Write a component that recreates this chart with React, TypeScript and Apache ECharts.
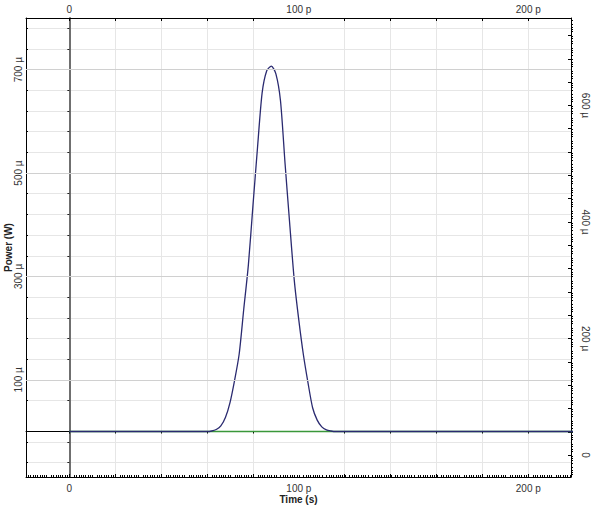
import { useEffect, useRef } from "react";
import * as echarts from "echarts";

// Axis ranges (time in ps, power in µW)
const X_MIN = -18.9;
const X_MAX = 218.6;
const Y_LEFT_MIN = -88;
const Y_LEFT_MAX = 800;
const Y_RIGHT_MIN = -37.5;
const Y_RIGHT_MAX = 750;

// Tick values (the reference shows no tick/grid at 100 p nor at 20 µ)
const X_TICKS = [0, 20, 40, 60, 80, 120, 140, 160, 180, 200];
const X_LABELS = [0, 100, 200];
const LEFT_TICKS = [-60, -20, 60, 100, 140, 180, 220, 260, 300, 340, 380, 420, 460, 500, 540, 580, 620, 660, 700, 740, 780];
const LEFT_LABELS = [100, 300, 500, 700];
const RIGHT_TICKS = [0, 40, 80, 120, 160, 200, 240, 280, 320, 360, 400, 440, 480, 520, 560, 600, 640, 680, 720];
const RIGHT_LABELS = [0, 200, 400, 600];

// Series: output pulse (blue) and reference (green)
const PULSE_TIME = [0, 60, 62, 64, 66, 68, 70, 72, 74, 76, 78, 80, 82, 84, 86, 88, 90, 92, 94, 96, 98, 100, 102, 104, 106, 108, 110, 112, 114, 116, 220];
const PULSE_POWER = [0, 0, 1, 4, 11, 27, 56, 99, 150, 237, 322, 437, 550, 655, 698, 707, 692, 640, 518, 403, 293, 215, 148, 94, 46, 22, 9, 3, 1, 0, 0];
const REF_TIME = [0, 220];
const REF_POWER = [0, 0];

const FONT = "'Liberation Sans', Arial, sans-serif";

export default function App() {
  const ref = useRef<HTMLDivElement>(null);

  useEffect(() => {
    const chart = echarts.init(ref.current!, null, { renderer: "svg" });
    const labelStyle = { color: "#333", fontSize: 10, fontFamily: FONT };
    const nameStyle = { color: "#222", fontSize: 10, fontWeight: "bold" as const, fontFamily: FONT };
    const fmtP = (v: number) => (v === 0 ? "0" : `${v} p`);
    const fmtU = (v: number) => (v === 0 ? "0" : `${v} µ`);

    chart.setOption({
      animation: false,
      backgroundColor: "#fff",
      grid: { left: 26, top: 18, right: 29, bottom: 28, outerBoundsMode: "none" },
      xAxis: [
        {
          type: "value", min: X_MIN, max: X_MAX, position: "bottom",
          axisLine: { show: true, onZero: false, lineStyle: { color: "#000", width: 1 } },
          axisTick: { show: true, inside: true, length: 3, customValues: X_TICKS, lineStyle: { color: "#000" } },
          axisLabel: { show: true, customValues: X_LABELS, formatter: fmtP, margin: 6, ...labelStyle },
          splitLine: { show: true, lineStyle: { color: "#e6e6e6", width: 1 } },
          name: "Time (s)", nameLocation: "middle", nameGap: 17, nameMoveOverlap: false, nameTextStyle: nameStyle,
        },
        {
          type: "value", min: X_MIN, max: X_MAX, position: "top",
          axisLine: { show: true, onZero: false, lineStyle: { color: "#000", width: 1 } },
          axisTick: { show: true, inside: true, length: 3, customValues: X_TICKS, lineStyle: { color: "#000" } },
          axisLabel: { show: true, customValues: X_LABELS, formatter: fmtP, margin: 4, ...labelStyle },
          splitLine: { show: false },
        },
        {
          type: "value", min: X_MIN, max: X_MAX, position: "bottom",
          axisLine: { show: true, onZero: true, onZeroAxisIndex: 0, lineStyle: { color: "#000", width: 1 } },
          axisTick: { show: true, inside: false, length: 2, customValues: X_TICKS, lineStyle: { color: "#000" } },
          axisLabel: { show: false },
          splitLine: { show: false },
        },
        {
          type: "value", min: X_MIN, max: X_MAX, position: "bottom", interval: 10,
          axisLine: { show: false, onZero: false },
          axisTick: { show: false, inside: true },
          minorTick: { show: true, splitNumber: 10, length: 2, lineStyle: { color: "#000", width: 1 } },
          axisLabel: { show: false },
          splitLine: { show: false },
        },
      ],
      yAxis: [
        {
          type: "value", min: Y_LEFT_MIN, max: Y_LEFT_MAX, position: "left",
          axisLine: { show: true, onZero: false, lineStyle: { color: "#000", width: 1 } },
          axisTick: { show: true, inside: true, length: 2, customValues: LEFT_TICKS, lineStyle: { color: "#000" } },
          axisLabel: { show: true, customValues: LEFT_LABELS, rotate: 90, formatter: fmtU, margin: 3, ...labelStyle },
          splitLine: { show: true, lineStyle: { color: "#e6e6e6", width: 1 } },
          name: "Power (W)", nameLocation: "middle", nameGap: 13, nameMoveOverlap: false, nameTextStyle: nameStyle,
        },
        {
          type: "value", min: Y_RIGHT_MIN, max: Y_RIGHT_MAX, position: "right",
          axisLine: { show: true, onZero: false, lineStyle: { color: "#000", width: 1 } },
          axisTick: { show: true, inside: true, length: 3, customValues: RIGHT_TICKS, lineStyle: { color: "#000" } },
          axisLabel: { show: true, customValues: RIGHT_LABELS, rotate: -90, formatter: fmtU, margin: 9, ...labelStyle },
          splitLine: { show: false },
        },
        {
          type: "value", min: Y_RIGHT_MIN, max: Y_RIGHT_MAX, position: "right", interval: 20,
          axisLine: { show: false, onZero: false },
          axisTick: { show: false, inside: false },
          minorTick: { show: true, splitNumber: 5, length: 2, lineStyle: { color: "#000", width: 1 } },
          axisLabel: { show: false },
          splitLine: { show: false },
        },
        {
          type: "value", min: Y_LEFT_MIN, max: Y_LEFT_MAX, position: "left",
          axisLine: { show: true, onZero: true, onZeroAxisIndex: 0, lineStyle: { color: "#6f6f6f", width: 2 } },
          axisTick: { show: true, inside: false, length: 2, customValues: LEFT_TICKS, lineStyle: { color: "#222" } },
          axisLabel: { show: false },
          splitLine: { show: false },
        },
      ],
      series: [
        {
          type: "line", name: "Reference", xAxisIndex: 0, yAxisIndex: 0, z: 2,
          data: REF_TIME.map((t, i) => [t, REF_POWER[i]]),
          showSymbol: false, symbol: "none",
          lineStyle: { color: "#3a973a", width: 1.3 },
          markLine: {
            silent: true, symbol: "none", animation: false,
            label: { show: false },
            lineStyle: { color: "#d0d0d0", width: 1, type: "solid" },
            data: LEFT_LABELS.map((v) => ({ yAxis: v })),
          },
        },
        {
          type: "line", name: "Pulse", xAxisIndex: 0, yAxisIndex: 0, z: 3,
          data: PULSE_TIME.map((t, i) => [t, PULSE_POWER[i]]),
          smooth: 0.25, showSymbol: false, symbol: "none",
          lineStyle: { color: "#2a2a70", width: 1.3 },
        },
      ],
    });
    return () => chart.dispose();
  }, []);

  return (
    <div
      ref={ref}
      style={{ position: "absolute", left: 0, top: 0, width: 600, height: 505, background: "#fff" }}
    />
  );
}
